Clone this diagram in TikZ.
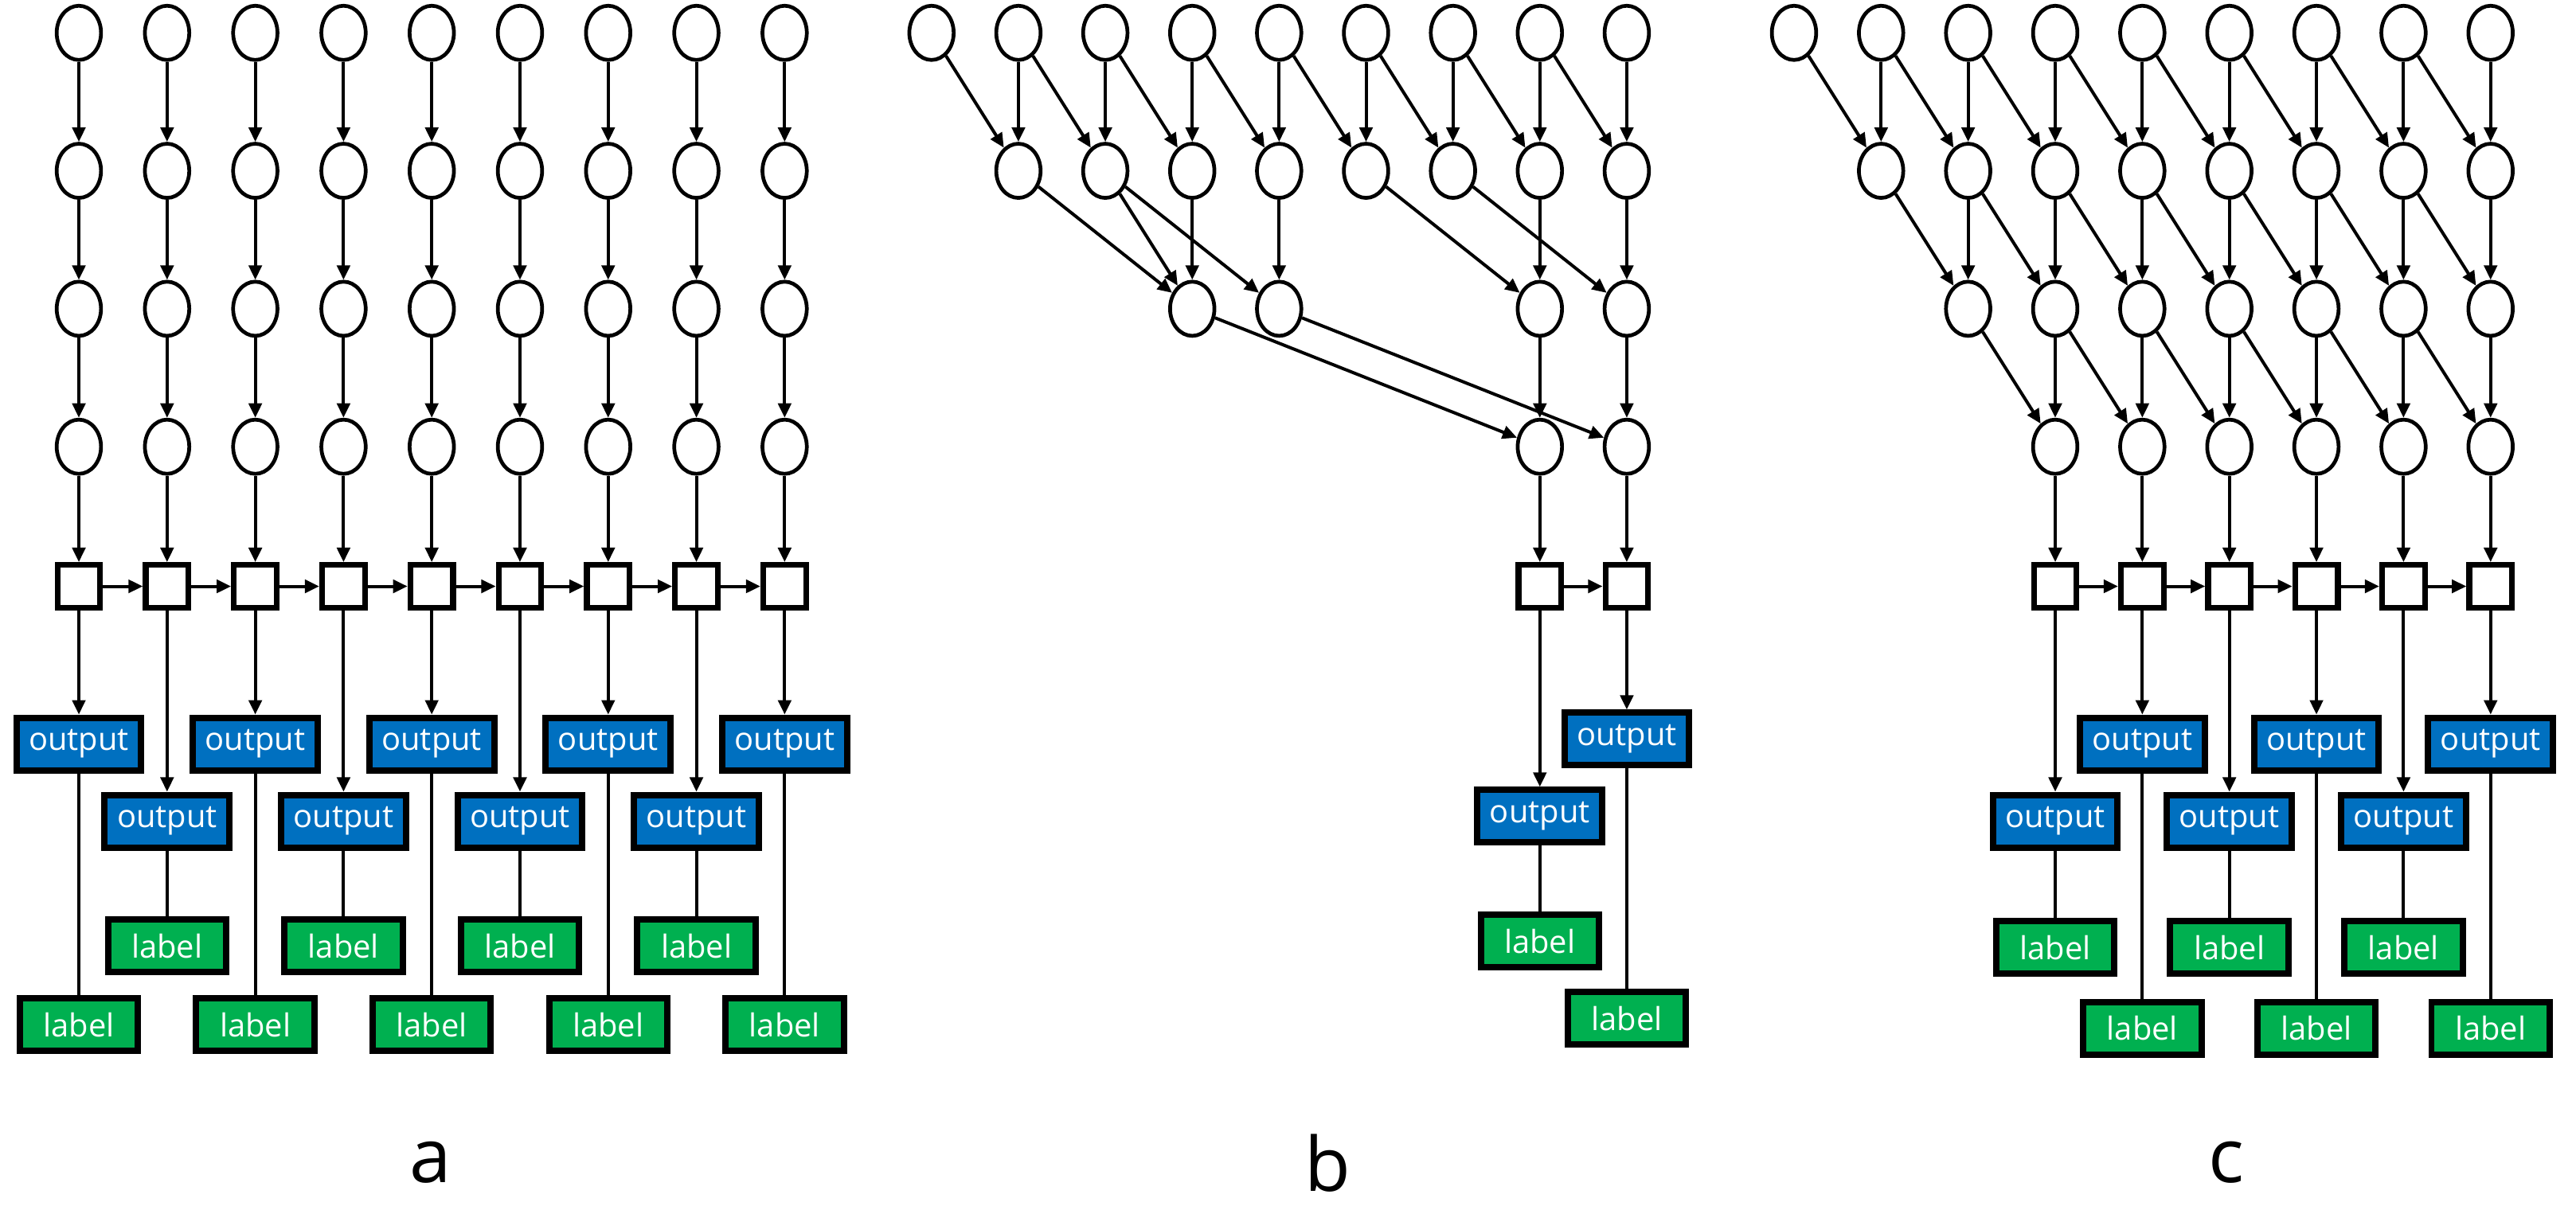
\documentclass[tikz,border=0pt]{standalone}
\usepackage{fontspec}
\setmainfont{Open Sans}
\usepackage{xcolor}
\usetikzlibrary{arrows.meta, shapes.geometric, positioning}
\definecolor{outblue}{HTML}{0070C0}
\definecolor{labgreen}{HTML}{00B050}

\begin{document}
\begin{tikzpicture}[x=0.02cm, y=-0.02cm, >={Triangle[length=5pt,width=4.5pt]},
    neuron/.style={draw, line width=1.3pt, ellipse, minimum width=0.54cm, minimum height=0.66cm, inner sep=0pt},
    cell/.style={draw, line width=2pt, fill=white, minimum size=0.52cm, inner sep=0pt},
    outbox/.style={draw, line width=2.2pt, fill=outblue, text=white, minimum width=1.52cm, minimum height=0.64cm, inner sep=0pt, font=\fontsize{11}{12}\selectfont},
    labbox/.style={draw, line width=2.2pt, fill=labgreen, text=white, minimum width=1.44cm, minimum height=0.64cm, inner sep=0pt, font=\fontsize{11}{12}\selectfont},
    conn/.style={->, line width=1.1pt},
    wire/.style={line width=1.1pt}]
    \useasboundingbox (0,0) rectangle (1568,734);

    % Panel a: plain stacked recurrent network
    \foreach \i in {0,...,8} {
        \foreach \r in {1,...,4}
            \node[neuron] (a\r\i) at ({48+53.7*\i},{20+84*(\r-1)}) {};
        \node[cell] (as\i) at ({48+53.7*\i},357) {};
        \foreach \r [evaluate=\r as \s using int(\r+1)] in {1,2,3}
            \draw[conn] (a\r\i) -- (a\s\i);
        \draw[conn] (a4\i) -- (as\i);
    }
    \foreach \i [evaluate=\i as \j using int(\i+1)] in {0,...,7}
        \draw[conn] (as\i) -- (as\j);
    \foreach \i in {0,2,4,6,8} {
        \node[outbox] (ao\i) at ({48+53.7*\i},453) {output};
        \node[labbox] (al\i) at ({48+53.7*\i},624) {label};
    }
    \foreach \i in {1,3,5,7} {
        \node[outbox] (ao\i) at ({48+53.7*\i},500) {output};
        \node[labbox] (al\i) at ({48+53.7*\i},576) {label};
    }
    \foreach \i in {0,...,8} {
        \draw[conn] (as\i) -- (ao\i);
        \draw[wire] (ao\i) -- (al\i);
    }

    % Panel b: dilated tree
    \foreach \i in {0,...,8}
        \node[neuron] (b1\i) at ({567+52.9*\i},20) {};
    \foreach \i [evaluate=\i as \p using int(\i-1)] in {1,...,8} {
        \node[neuron] (b2\i) at ({567+52.9*\i},104) {};
        \draw[conn] (b1\i) -- (b2\i);
        \draw[conn] (b1\p) -- (b2\i);
    }
    \foreach \i in {3,4,7,8}
        \node[neuron] (b3\i) at ({567+52.9*\i},188) {};
    \foreach \i in {7,8} {
        \node[neuron] (b4\i) at ({567+52.9*\i},272) {};
        \node[cell] (bs\i) at ({567+52.9*\i},357) {};
    }
    \draw[conn] (b21) -- (b33);
    \draw[conn] (b22) -- (b33);
    \draw[conn] (b22) -- (b34);
    \draw[conn] (b23) -- (b33);
    \draw[conn] (b24) -- (b34);
    \draw[conn] (b25) -- (b37);
    \draw[conn] (b26) -- (b38);
    \draw[conn] (b27) -- (b37);
    \draw[conn] (b28) -- (b38);
    \draw[conn] (b33) -- (b47);
    \draw[conn] (b34) -- (b48);
    \draw[conn] (b37) -- (b47);
    \draw[conn] (b38) -- (b48);
    \draw[conn] (b47) -- (bs7);
    \draw[conn] (b48) -- (bs8);
    \draw[conn] (bs7) -- (bs8);
    \node[outbox] (bo8) at ({567+52.9*8},450) {output};
    \node[outbox] (bo7) at ({567+52.9*7},497) {output};
    \node[labbox] (bl7) at ({567+52.9*7},573) {label};
    \node[labbox] (bl8) at ({567+52.9*8},620) {label};
    \foreach \i in {7,8} {
        \draw[conn] (bs\i) -- (bo\i);
        \draw[wire] (bo\i) -- (bl\i);
    }

    % Panel c: stacked causal convolutions
    \foreach \i in {0,...,8}
        \node[neuron] (c1\i) at ({1092+53*\i},20) {};
    \foreach \r/\q/\f in {2/1/1,3/2/2,4/3/3} {
        \foreach \i [evaluate=\i as \p using int(\i-1)] in {\f,...,8} {
            \node[neuron] (c\r\i) at ({1092+53*\i},{20+84*(\r-1)}) {};
            \draw[conn] (c\q\i) -- (c\r\i);
            \draw[conn] (c\q\p) -- (c\r\i);
        }
    }
    \foreach \i in {3,...,8} {
        \node[cell] (cs\i) at ({1092+53*\i},357) {};
        \draw[conn] (c4\i) -- (cs\i);
    }
    \foreach \i [evaluate=\i as \j using int(\i+1)] in {3,...,7}
        \draw[conn] (cs\i) -- (cs\j);
    \foreach \i in {4,6,8} {
        \node[outbox] (co\i) at ({1092+53*\i},453) {output};
        \node[labbox] (cl\i) at ({1092+53*\i},626) {label};
    }
    \foreach \i in {3,5,7} {
        \node[outbox] (co\i) at ({1092+53*\i},500) {output};
        \node[labbox] (cl\i) at ({1092+53*\i},577) {label};
    }
    \foreach \i in {3,...,8} {
        \draw[conn] (cs\i) -- (co\i);
        \draw[wire] (co\i) -- (cl\i);
    }

    % Captions
    \node[font=\fontsize{26}{30}\selectfont] (capa) at (262,708) {a};
    \node[font=\fontsize{26}{30}\selectfont] (capb) at (808,708) {b};
    \node[font=\fontsize{26}{30}\selectfont] (capc) at (1355,708) {c};
\end{tikzpicture}
\end{document}
